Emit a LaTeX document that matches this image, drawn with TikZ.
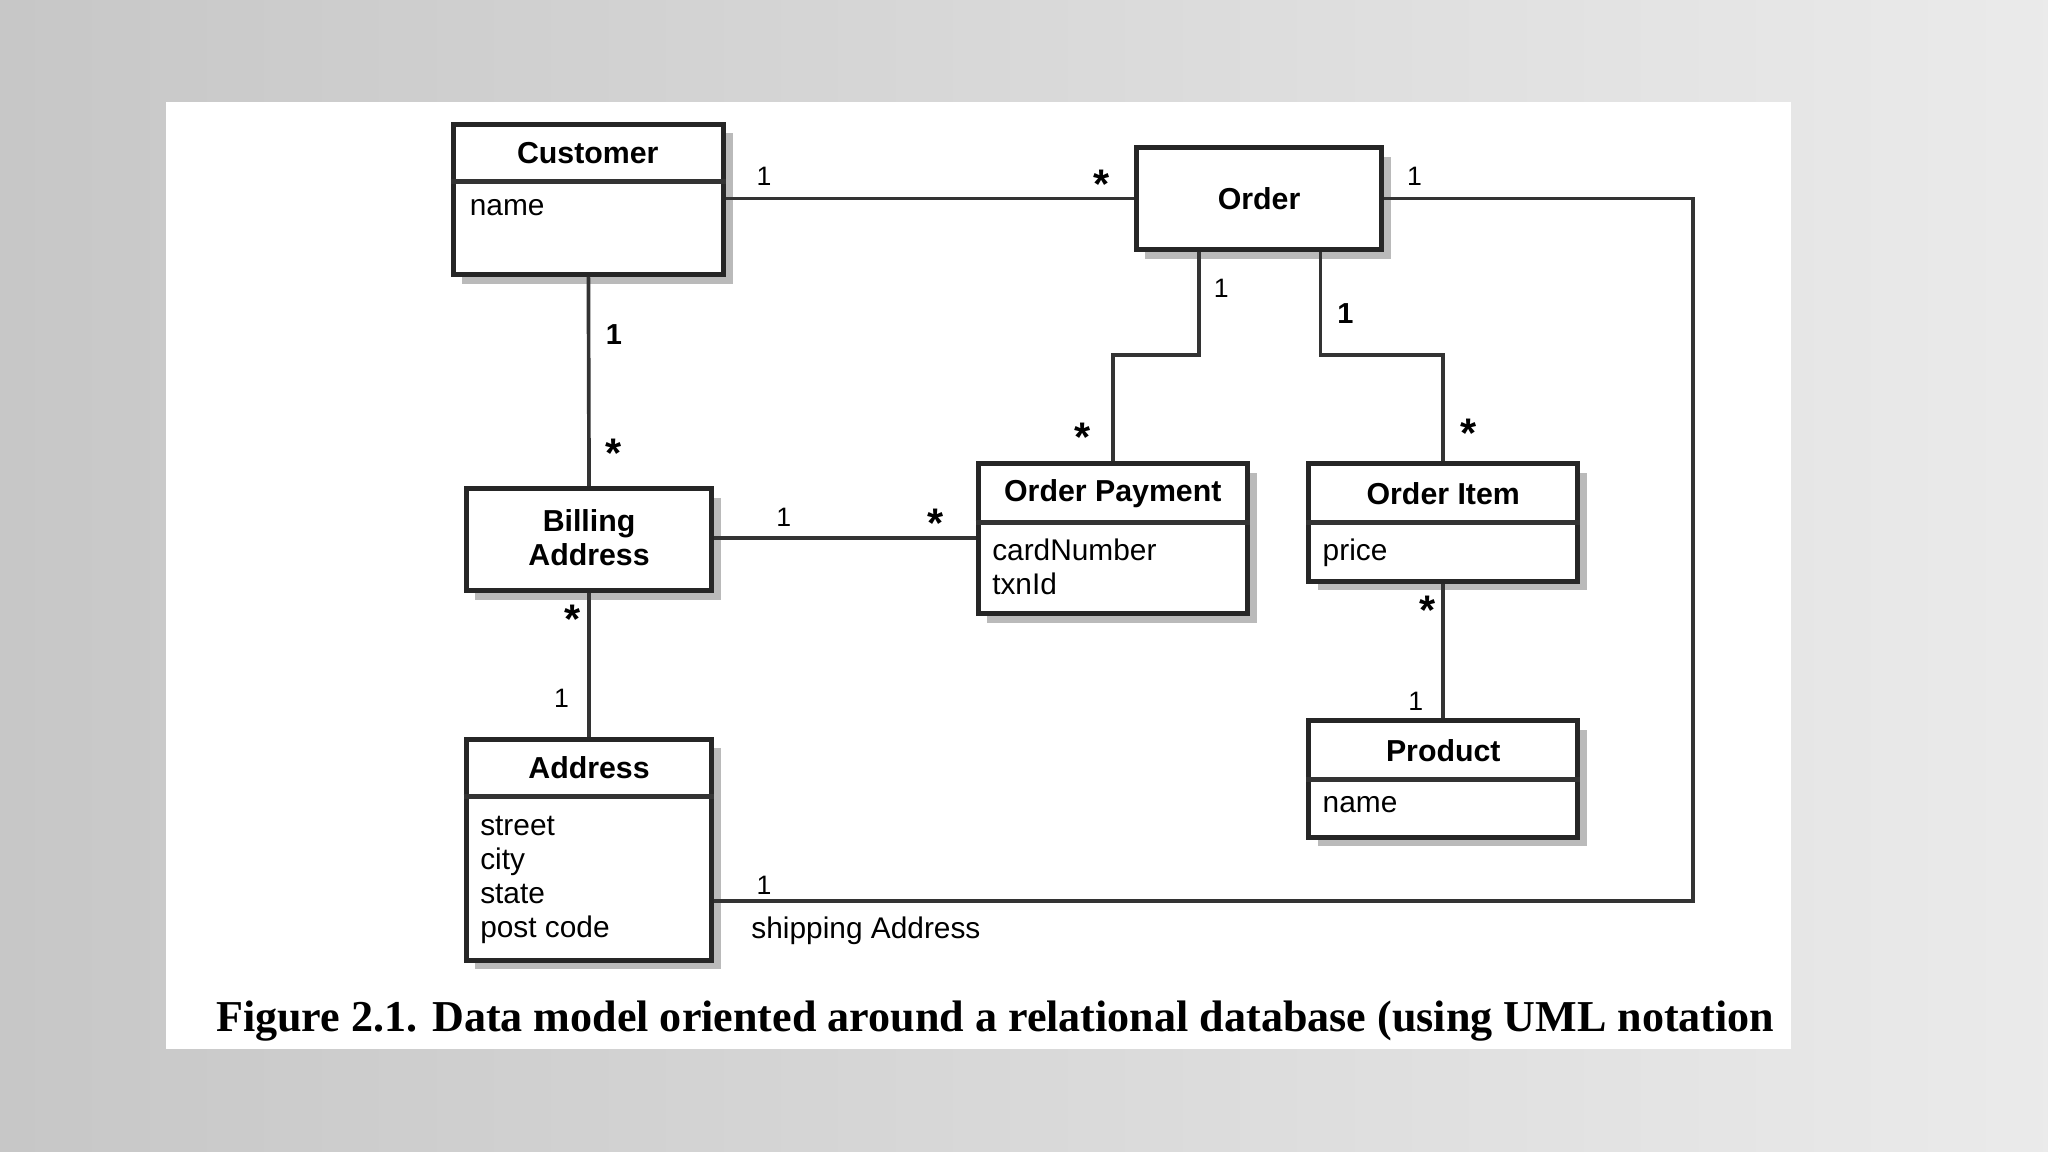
\documentclass[tikz,border=0pt]{standalone}
\usepackage{fontspec}
\setmainfont{Liberation Sans}
\newfontfamily\capfont{Liberation Serif}
\usetikzlibrary{shadows}
\begin{document}
\begin{tikzpicture}[x=0.01cm,y=-0.01cm,
  box/.style={draw=black!85,line width=1.1pt,fill=white,inner sep=0,drop shadow={shadow xshift=2pt,shadow yshift=-2pt,fill=black!45,opacity=.6}},
  ttl/.style={font=\fontsize{6.6}{7.4}\selectfont\bfseries,align=center},
  att/.style={font=\fontsize{6.5}{7.4}\selectfont,align=left,anchor=north west,inner sep=0},
  lbl/.style={font=\fontsize{5.8}{7}\selectfont,inner sep=0},
  blbl/.style={font=\fontsize{6.3}{7}\selectfont\bfseries,inner sep=0},
  star/.style={font=\fontsize{9}{9}\selectfont\bfseries,inner sep=0},
  ln/.style={draw=black!80,line width=0.8pt}]
\shade[left color=black!22,right color=black!8] (0,0) rectangle (1568,882);
\useasboundingbox (0,0) rectangle (1568,882);
\fill[white] (127,78) rectangle (1371,803);
% boxes
\node[box,minimum width=2.07cm,minimum height=1.15cm] (cust) at (450.5,152.5) {};
\node[box,minimum width=1.88cm,minimum height=0.78cm] (ord) at (964,152) {};
\node[box,minimum width=1.88cm,minimum height=0.78cm] (bill) at (451,413) {};
\node[box,minimum width=2.06cm,minimum height=1.15cm] (pay) at (852,412.5) {};
\node[box,minimum width=2.06cm,minimum height=0.90cm] (item) at (1105,400) {};
\node[box,minimum width=2.06cm,minimum height=0.89cm] (prod) at (1105,596.5) {};
\node[box,minimum width=1.88cm,minimum height=1.69cm] (addr) at (451,650.5) {};
% dividers
\draw[ln,line width=1pt] (cust.west |- 0,139) -- (cust.east |- 0,139);
\draw[ln,line width=1pt] (pay.west |- 0,400) -- (pay.east |- 0,400);
\draw[ln,line width=1pt] (item.west |- 0,400) -- (item.east |- 0,400);
\draw[ln,line width=1pt] (prod.west |- 0,597) -- (prod.east |- 0,597);
\draw[ln,line width=1pt] (addr.west |- 0,610) -- (addr.east |- 0,610);
% titles
\node[ttl] (tc) at (450,117) {Customer};
\node[ttl] (to) at (964,152) {Order};
\node[ttl] (tb) at (451,412) {Billing\\Address};
\node[ttl] (tp) at (852,378) {Order Payment};
\node[ttl] (ti) at (1105,378) {Order Item};
\node[ttl] (tpr) at (1105,575) {Product};
\node[ttl] (ta) at (451,588) {Address};
% attributes
\node[att] (ac) at (359,152) {name};
\node[att] (ap) at (759,412) {cardNumber\\txnId};
\node[att] (ai) at (1012,412) {price};
\node[att] (apr) at (1012,609) {name};
\node[att] (aa) at (367,624) {street\\city\\state\\post code};
% connectors
\draw[ln] (cust.east |- 0,152) -- (ord.west);
\coordinate (c1) at (1296,152);
\coordinate (c2) at (1296,690);
\draw[ln] (ord.east) -- (c1) -- (c2) -- (addr.east |- c2);
\draw[ln] (cust.south) -- (bill.north);
\draw[ln] (ord.south -| 918,0) -- (918,272) -| (pay.north);
\draw[ln] (ord.south -| 1011,0) -- (1011,272) -| (item.north);
\draw[ln] (bill.east |- 0,412) -- (pay.west |- 0,412);
\draw[ln] (bill.south) -- (addr.north);
\draw[ln] (item.south) -- (prod.north);
% multiplicities
\node[lbl] at (585,135) {1};
\node[star] at (843,141) {*};
\node[lbl] at (1083,135) {1};
\node[lbl] at (585,678) {1};
\node[lbl,font=\fontsize{6.5}{8}\selectfont] at (663,713) {shipping Address};
\node[blbl] at (470,256) {1};
\node[star] at (470,347) {*};
\node[lbl] at (935,221) {1};
\node[star] at (829,335) {*};
\node[blbl] at (1030,240) {1};
\node[star] at (1124,332) {*};
\node[lbl] at (600,396) {1};
\node[star] at (716,401) {*};
\node[star] at (438,474) {*};
\node[lbl] at (430,535) {1};
\node[star] at (1093,467) {*};
\node[lbl] at (1084,537) {1};
% caption
\node[font=\capfont\fontsize{9.6}{12}\selectfont\bfseries,inner sep=0] (cap) at (762,782) {Figure 2.1. Data model oriented around a relational database (using UML notation};
\end{tikzpicture}
\end{document}
